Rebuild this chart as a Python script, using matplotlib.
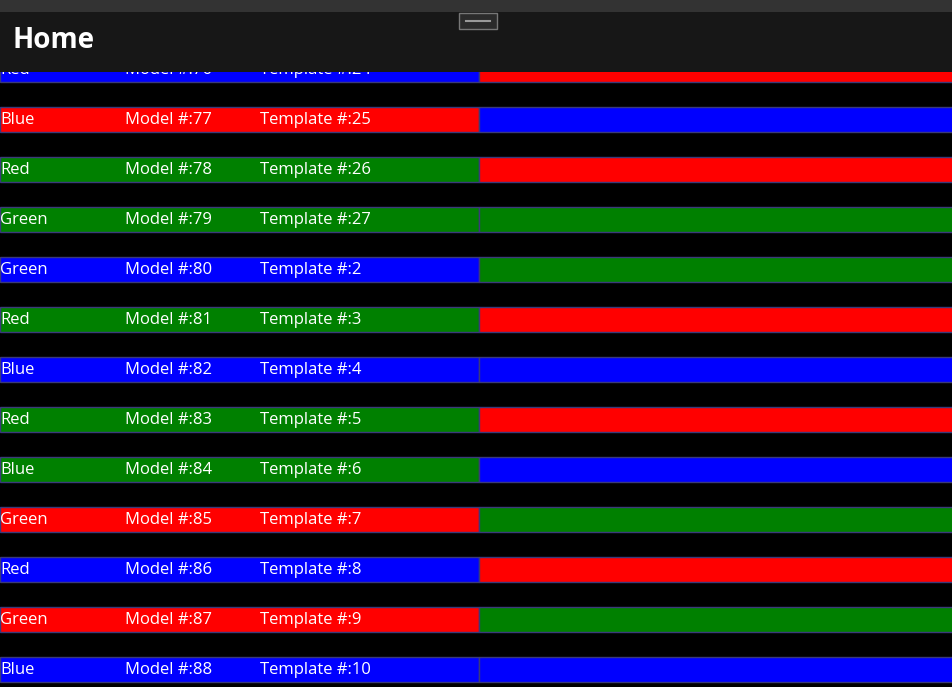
import matplotlib.pyplot as plt
from matplotlib.patches import Rectangle

models = [76, 77, 78, 79, 80, 81, 82, 83, 84, 85, 86, 87, 88]
labels = ["Red", "Blue", "Red", "Green", "Green", "Red", "Blue", "Red", "Blue", "Green", "Red", "Green", "Blue"]
left_colors = ["Blue", "Red", "Green", "Green", "Blue", "Green", "Blue", "Green", "Green", "Red", "Blue", "Red", "Blue"]
templates = [24, 25, 26, 27, 2, 3, 4, 5, 6, 7, 8, 9, 10]

css = {"Red": "#ff0000", "Blue": "#0000ff", "Green": "#008000"}

W, H = 953, 687
fig = plt.figure(figsize=(W / 100, H / 100), dpi=100, facecolor="black")
ax = fig.add_axes([0, 0, 1, 1])
ax.set_xlim(0, W)
ax.set_ylim(H, 0)
ax.axis("off")
ax.set_facecolor("black")

font = "Open Sans"
for i, m in enumerate(models):
    top = 57 + 50 * i
    ax.add_patch(Rectangle((0, top), 479, 25, facecolor=css[left_colors[i]],
                           edgecolor="#3a3a7a", linewidth=1, zorder=1))
    ax.add_patch(Rectangle((479, top), W - 479, 25, facecolor=css[labels[i]],
                           edgecolor="#3a3a7a", linewidth=1, zorder=1))
    cy = top + 13
    ax.text(0, cy, labels[i], color="white", fontsize=12, family=font, va="center", zorder=2)
    ax.text(125, cy, f"Model #:{m}", color="white", fontsize=12, family=font, va="center", zorder=2)
    ax.text(260, cy, f"Template #:{templates[i]}", color="white", fontsize=12, family=font, va="center", zorder=2)

# title bar / header
ax.add_patch(Rectangle((0, 0), W, 12, facecolor="#333333", edgecolor="none", zorder=5))
ax.add_patch(Rectangle((0, 12), W, 60, facecolor="#171717", edgecolor="none", zorder=5))
ax.add_patch(Rectangle((459, 13), 38, 16, facecolor="#2b2b2b", edgecolor="#777777", linewidth=1, zorder=6))
ax.plot([466, 490], [21, 21], color="#999999", linewidth=1.5, zorder=7)
ax.text(13, 40, "Home", color="white", fontsize=20, fontweight="bold", family=font, va="center", zorder=7)

fig.savefig("out.png", dpi=100, facecolor="black")
